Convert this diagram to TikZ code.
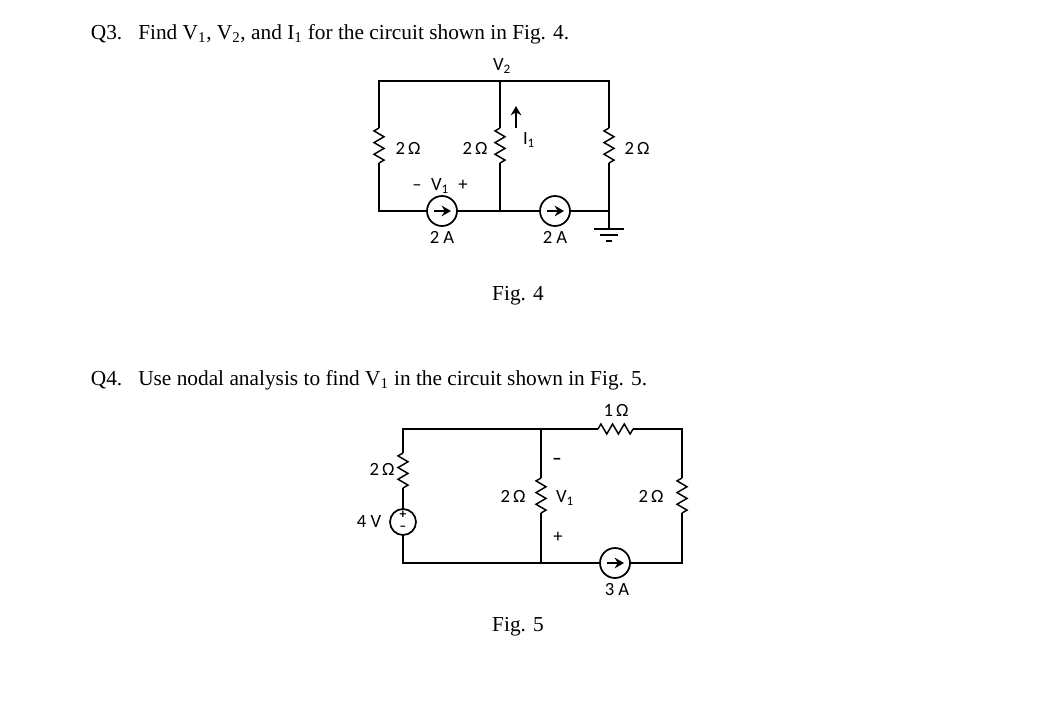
\documentclass[tikz,border=0pt]{standalone}
\usepackage{fontspec}
\usetikzlibrary{arrows.meta}
\setmainfont{Liberation Serif}
\newfontfamily\crlfont{Carlito}
\begin{document}
\begin{tikzpicture}[x=0.75pt,y=-0.75pt,line width=1.3pt,
  lbl/.style={font=\crlfont\fontsize{14}{16}\selectfont,inner sep=0pt},
  q/.style={font=\fontsize{16}{18}\selectfont,inner sep=0pt,anchor=west},
  src/.style={circle,draw,fill=white,minimum size=22.5pt,inner sep=0pt},
  arr/.style={-{Stealth[length=7pt,width=8pt]},line width=2pt},
  vres/.pic={\draw[line width=1.1pt] (0,0) -- (-5,2.9) -- (5,8.75) -- (-5,14.6) -- (5,20.4) -- (-5,26.25) -- (5,32.1) -- (0,35);},
  hres/.pic={\draw[line width=1.1pt] (0,0) -- (2.9,-5) -- (8.75,5) -- (14.6,-5) -- (20.4,5) -- (26.25,-5) -- (32.1,5) -- (35,0);}]
\useasboundingbox (0,0) rectangle (1062,709);
% Q3
\node[q] (q3) at (90,34) {Q3.\hspace{12pt}Find V\textsubscript{1}, V\textsubscript{2}, and I\textsubscript{1} for the circuit shown in Fig. 4.};
\draw (379,128) -- (379,81) -- (609,81) -- (609,128);
\draw (500,81) -- (500,128);
\draw (379,163) -- (379,211) -- (609,211) -- (609,163);
\draw (500,163) -- (500,211);
\pic at (379,128) {vres};
\pic at (500,128) {vres};
\pic at (609,128) {vres};
\node[src] (s1) at (442,211) {};
\node[src] (s2) at (555,211) {};
\draw[arr] (434,211) -- (451,211);
\draw[arr] (547,211) -- (564,211);
\draw (609,211) -- (609,229);
\draw (594,229) -- (624,229);
\draw (600,235) -- (618,235);
\draw (606,241) -- (612,241);
\draw[arr] (516,128) -- (516,106);
\node[lbl] at (502,66) {V\textsubscript{2}};
\node[lbl] at (408,148) {2\,Ω};
\node[lbl] at (475,148) {2\,Ω};
\node[lbl] at (529,140) {I\textsubscript{1}};
\node[lbl] at (637,148) {2\,Ω};
\node[lbl] at (440,186) {–\hspace{7pt}V\textsubscript{1}\hspace{7pt}+};
\node[lbl] at (442,237) {2 A};
\node[lbl] at (555,237) {2 A};
\node[q,anchor=center] at (518,296) {Fig. 4};
% Q4
\node[q] (q4) at (90,380) {Q4.\hspace{12pt}Use nodal analysis to find V\textsubscript{1} in the circuit shown in Fig. 5.};
\draw (403,453) -- (403,429) -- (598,429);
\draw (633,429) -- (682,429) -- (682,478);
\pic at (598,429) {hres};
\pic at (403,453) {vres};
\draw (403,488) -- (403,563) -- (682,563) -- (682,513);
\pic at (682,478) {vres};
\draw (541,429) -- (541,478);
\pic at (541,478) {vres};
\draw (541,513) -- (541,563);
\node[circle,draw,fill=white,minimum size=19.5pt,inner sep=0pt] (vs) at (403,522) {};
\node[font=\crlfont\bfseries\fontsize{10}{10}\selectfont,inner sep=0pt] at (403,515) {+};
\node[font=\crlfont\bfseries\fontsize{10}{10}\selectfont,inner sep=0pt] at (403,528) {–};
\node[src] (s3) at (615,563) {};
\draw[arr] (607,563) -- (624,563);
\node[lbl] at (616,410) {1\,Ω};
\node[lbl] at (382,469) {2\,Ω};
\node[lbl] at (369,522) {4 V};
\node[lbl] at (513,496) {2\,Ω};
\node[lbl,font=\crlfont\bfseries\fontsize{14}{16}\selectfont] at (557,461) {–};
\node[lbl] at (565,498) {V\textsubscript{1}};
\node[lbl] at (558,537) {+};
\node[lbl] at (651,496) {2\,Ω};
\node[lbl] at (617,590) {3 A};
\node[q,anchor=center] at (518,627) {Fig. 5};
\end{tikzpicture}
\end{document}
